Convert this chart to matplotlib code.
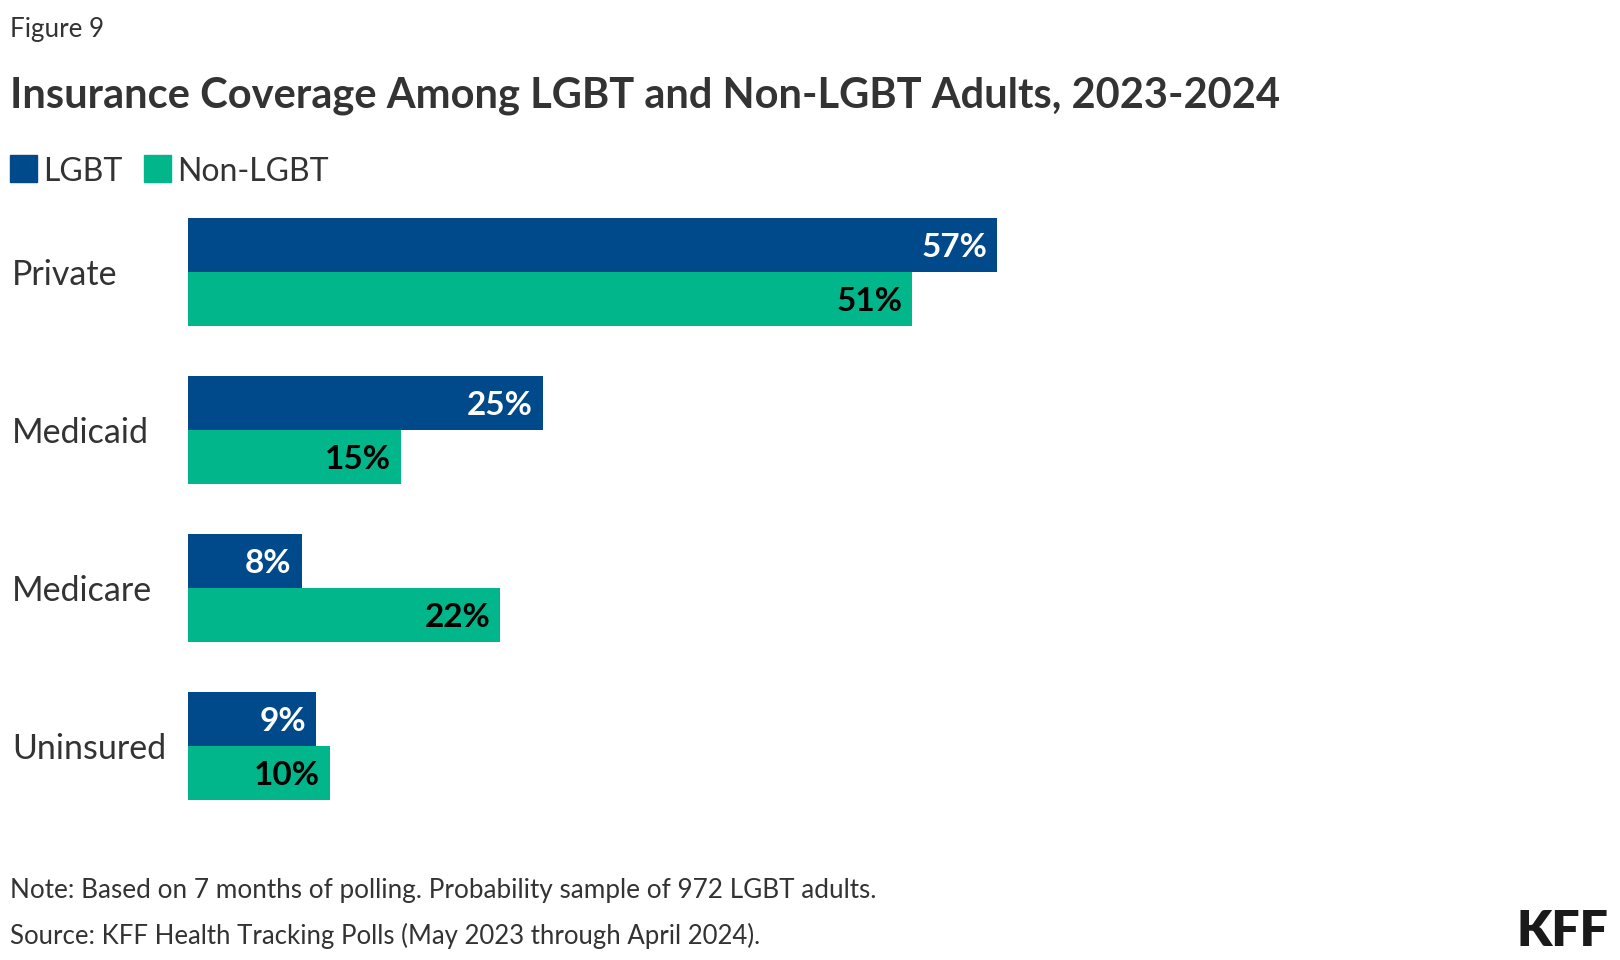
import matplotlib.pyplot as plt
from matplotlib.patches import Rectangle

plt.rcParams['font.family'] = ['Lato', 'DejaVu Sans']

categories = ['Private', 'Medicaid', 'Medicare', 'Uninsured']
lgbt = [57, 25, 8, 9]
non_lgbt = [51, 15, 22, 10]
series_names = ['LGBT', 'Non-LGBT']

blue = '#00498A'
green = '#00B68A'
dark = '#333333'

W, H = 1620, 960
fig = plt.figure(figsize=(W / 100, H / 100), dpi=100)

# axes placed in pixel terms
ax_left, ax_top, ax_right, ax_bottom = 188, 218, 1608, 800
ax = fig.add_axes([ax_left / W, 1 - ax_bottom / H, (ax_right - ax_left) / W, (ax_bottom - ax_top) / H])

bh = 54 / 158
ys = range(len(categories))
ax.barh([y - bh / 2 for y in ys], lgbt, height=bh, color=blue, linewidth=0)
ax.barh([y + bh / 2 for y in ys], non_lgbt, height=bh, color=green, linewidth=0)

ax.set_xlim(0, 100)
ax.set_ylim(3 + bh, -bh)
ax.axis('off')

pad = 0.7
for y, v in zip(ys, lgbt):
    ax.text(v - pad, y - bh / 2, f'{v}%', ha='right', va='center_baseline',
            color='white', fontsize=24, fontweight='bold')
for y, v in zip(ys, non_lgbt):
    ax.text(v - pad, y + bh / 2, f'{v}%', ha='right', va='center_baseline',
            color='black', fontsize=24, fontweight='bold')

for y, c in zip(ys, categories):
    fig.text(12 / W, 1 - (272 + 158 * y) / H, c, ha='left', va='center_baseline',
             fontsize=24.5, color=dark)

# header
fig.text(10 / W, 1 - 27 / H, 'Figure 9', ha='left', va='center_baseline', fontsize=18.7, color=dark)
fig.text(10 / W, 1 - 92 / H, 'Insurance Coverage Among LGBT and Non-LGBT Adults, 2023-2024',
         ha='left', va='center_baseline', fontsize=30, fontweight='bold', color=dark)

# legend
leg_y = 169
for x0, name, col in [(10, series_names[0], blue), (144, series_names[1], green)]:
    fig.patches.append(Rectangle((x0 / W, 1 - (leg_y + 13) / H), 27 / W, 27 / H,
                                 transform=fig.transFigure, color=col))
    fig.text((x0 + 33) / W, 1 - leg_y / H, name, ha='left', va='center_baseline',
             fontsize=23, color=dark)

# footer
fig.text(10 / W, 1 - 888 / H, 'Note: Based on 7 months of polling. Probability sample of 972 LGBT adults.',
         ha='left', va='center_baseline', fontsize=18.8, color=dark)
fig.text(10 / W, 1 - 933 / H, 'Source: KFF Health Tracking Polls (May 2023 through April 2024).',
         ha='left', va='center_baseline', fontsize=18.5, color=dark)
fig.text(1608 / W, 1 - 928 / H, 'KFF', ha='right', va='center_baseline',
         fontsize=36, fontweight='heavy', color='#1a1a1a')

fig.savefig('out.png', dpi=100, facecolor='white')
